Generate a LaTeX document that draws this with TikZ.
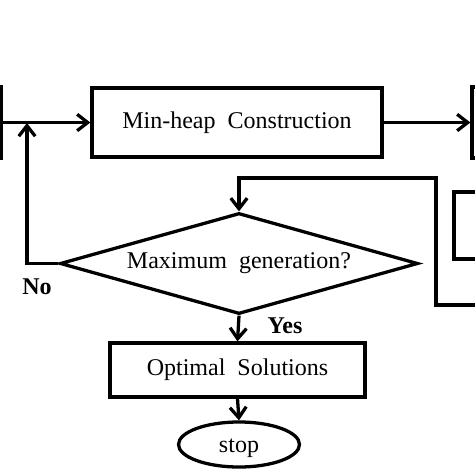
\documentclass[tikz,border=0pt]{standalone}
\usepackage{fontspec}
\setmainfont{Liberation Serif}
\usetikzlibrary{shapes.geometric}
\usetikzlibrary{arrows.meta}

\tikzset{
  flow/.style={line width=2.8pt},
  arr/.style={flow, -{Straight Barb[length=9pt,width=14pt,line width=2.8pt]}},
  procbox/.style={draw, flow, rectangle, inner sep=0cm,
                  font=\fontsize{20.5}{24}\selectfont},
  decbox/.style={draw, flow, diamond, aspect=3.5, inner sep=0cm,
                 font=\fontsize{20.5}{24}\selectfont},
  endbox/.style={draw, flow, ellipse, inner sep=0cm,
                 font=\fontsize{20.5}{24}\selectfont},
  answer/.style={font=\bfseries\fontsize{20.5}{24}\selectfont}
}

\begin{document}
\begin{tikzpicture}[x=0.03cm, y=-0.03cm]
\useasboundingbox (0,0) rectangle (474,474);

% boxes cut by the page edge
\node[procbox, minimum width=1.8cm, minimum height=2.13cm] (prev) at (-28.5,122.5) {};
\node[procbox, minimum width=1.8cm, minimum height=2.13cm] (next) at (502,122.5) {};
\node[procbox, minimum width=1.8cm, minimum height=2.01cm] (side) at (484,225.5) {};

% main column
\node[procbox, minimum width=8.7cm, minimum height=2.07cm] (heap) at (237,122.5) {Min-heap\ \ Construction};
\node[decbox, minimum width=10.74cm, minimum height=3.03cm] (maxgen) at (239,263.5) {Maximum\ \ generation?};
\node[procbox, minimum width=7.65cm, minimum height=1.62cm] (optsol) at (237.5,370) {Optimal\ \ Solutions};
\node[endbox, minimum width=3.63cm, minimum height=1.35cm] (stop) at (239,444.5) {\raisebox{-3pt}[\height][\depth]{stop}};

\coordinate (join) at (27,123);
\coordinate (back) at (490,305);

\draw[arr] (prev.east) -- (heap.west);
\draw[arr] (heap.east) -- (next.west);
\draw[arr] (maxgen.west) -- (27,263.5) -- (join);
\draw[arr] (back) -- (436,305) -- (436,178) -| (maxgen.north);
\draw[arr] (maxgen.south) -- (optsol.north);
\draw[arr] (optsol.south) -- (stop.north);

\node[answer] (no) at (37,287) {No};
\node[answer] (yes) at (285,326) {Yes};
\end{tikzpicture}
\end{document}
